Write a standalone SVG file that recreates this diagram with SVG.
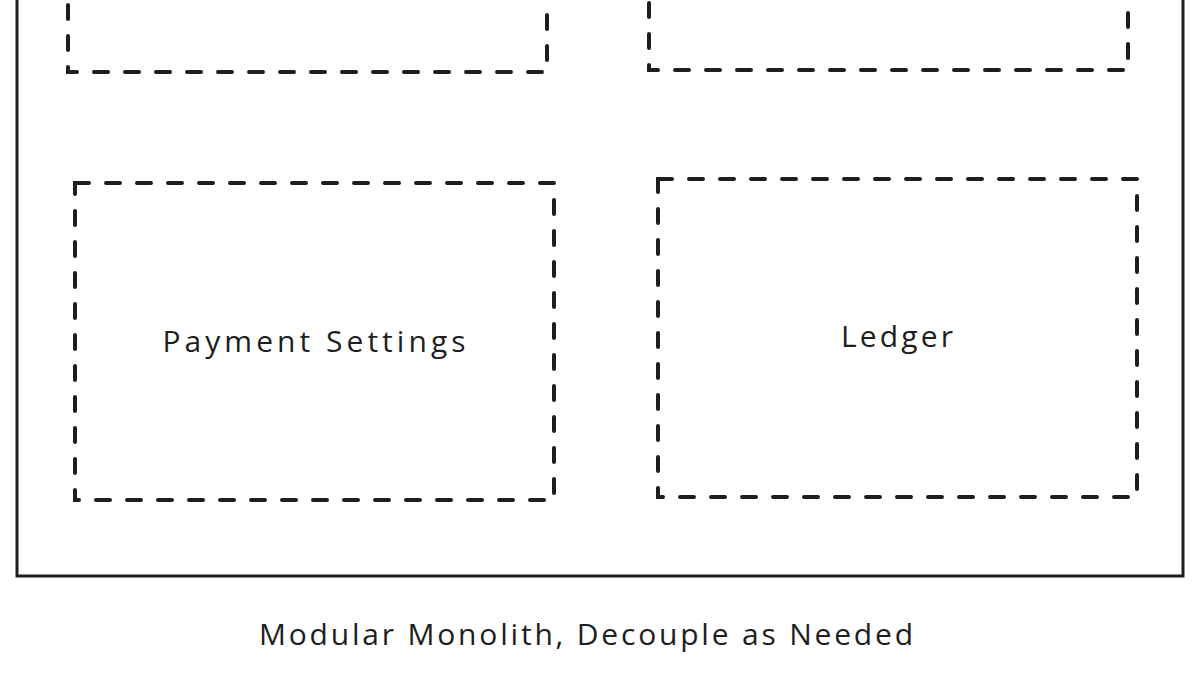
<svg xmlns="http://www.w3.org/2000/svg" width="1200" height="675" viewBox="0 0 1200 675">
<style>
.outer{fill:none;stroke:#1e1e1e;stroke-width:3}
.mod{fill:none;stroke:#1e1e1e;stroke-width:4;stroke-dasharray:14 17;stroke-linecap:round}
.lbl{font-family:"Open Sans","Liberation Sans",Arial,sans-serif;font-size:30px;fill:#1e1e1e;text-anchor:middle}
</style>
<rect width="1200" height="675" fill="#ffffff"/>
<g id="monolith"><rect class="outer" x="17" y="-100" width="1166" height="676"/></g>
<g id="module-top-left"><rect class="mod" x="68" y="-250" width="479" height="322"/></g>
<g id="module-top-right"><rect class="mod" x="649" y="-252" width="479" height="322"/></g>
<g id="module-payment-settings"><rect class="mod" x="75" y="183" width="479" height="317"/>
<text class="lbl" x="314" y="352" textLength="303" lengthAdjust="spacing">Payment Settings</text></g>
<g id="module-ledger"><rect class="mod" x="658" y="179" width="479" height="318"/>
<text class="lbl" x="897" y="347" textLength="112" lengthAdjust="spacing">Ledger</text></g>
<g id="connectors"></g>
<g id="caption"><text class="lbl" x="586" y="645" textLength="654" lengthAdjust="spacing">Modular Monolith, Decouple as Needed</text></g>
</svg>
